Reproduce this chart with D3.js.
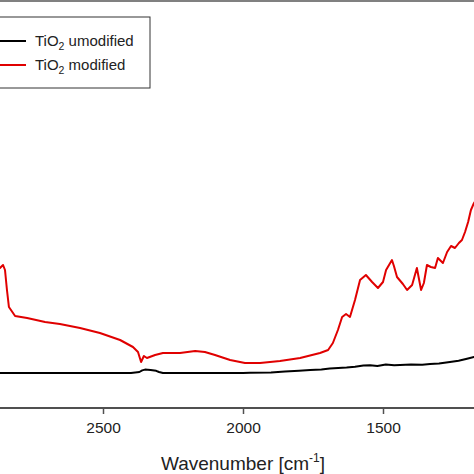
<!DOCTYPE html>
<html>
<head>
<meta charset="utf-8">
<script src="https://cdnjs.cloudflare.com/ajax/libs/d3/7.8.5/d3.min.js"></script>
<style>
  body { margin: 0; background: #fff; }
  svg { display: block; }
  text { font-family: "Liberation Sans", Arial, sans-serif; }
</style>
</head>
<body>
<svg width="474" height="474"></svg>
<script>
// FTIR spectra, TiO2 unmodified vs modified

var xTicks = [2500, 2000, 1500];

var seriesNames = ['umodified', 'modified'];
var seriesColors = ['#000000', '#e00000'];

// wavenumber [cm-1], absorbance (arbitrary units)
var blackWave = [2880, 2860, 2800, 2700, 2600, 2500, 2400, 2370, 2360, 2350, 2330, 2310, 2300, 2286, 2200, 2100, 2000, 1975, 1900, 1850, 1800, 1760, 1720, 1690, 1660, 1630, 1600, 1570, 1546, 1520, 1490, 1460, 1439, 1400, 1360, 1332, 1300, 1261, 1230, 1200, 1175, 1120];
var blackAbs  = [8.75, 8.75, 8.75, 8.75, 8.75, 8.75, 8.75, 9, 9.4, 9.6, 9.5, 9.3, 9, 8.75, 8.75, 8.75, 8.75, 8.8, 8.9, 9.1, 9.3, 9.5, 9.6, 9.9, 10, 10.1, 10.3, 10.6, 10.7, 10.5, 10.9, 10.7, 10.75, 10.9, 10.8, 11, 11.1, 11.5, 11.8, 12.3, 12.75, 13.3];

var redWave = [2880, 2868, 2857, 2850, 2843, 2836, 2814, 2771, 2707, 2654, 2582, 2511, 2439, 2393, 2375, 2364, 2354, 2343, 2314, 2286, 2225, 2171, 2136, 2100, 2046, 1993, 1939, 1868, 1796, 1725, 1696, 1679, 1661, 1646, 1632, 1618, 1600, 1582, 1561, 1539, 1518, 1500, 1489, 1468, 1461, 1450, 1429, 1414, 1396, 1379, 1364, 1354, 1343, 1329, 1314, 1304, 1286, 1271, 1257, 1243, 1229, 1218, 1207, 1196, 1186, 1175, 1154];
var redAbs  = [35, 35, 35.75, 34.5, 29.5, 25.25, 23, 22.5, 21.5, 21, 20, 18.75, 17, 15.25, 14, 11.5, 13, 12.5, 13.25, 13.75, 13.75, 14.25, 14, 13.25, 12, 11.25, 11.25, 11.75, 12.5, 13.75, 14.5, 16.25, 19.5, 22.75, 23.5, 22.75, 27, 32, 33.25, 31.5, 30, 31.5, 34.5, 37, 35.5, 32.75, 31, 29.5, 30.75, 35, 29.5, 31.25, 35.75, 35.25, 35, 37.5, 36.25, 39, 40.5, 40, 41.25, 42, 44, 46.5, 49.5, 51.25, 53.25];

var svg = d3.select('svg');
var width = +svg.attr('width');
var height = +svg.attr('height');

var axisY = 408;

// plot area runs wider than the crop on both sides
var x = d3.scaleLinear().domain([3000, 1000]).range([-37, 523]);
var y = d3.scaleLinear().domain([0, 100]).range([axisY, 8]);

// top frame
svg.append('line')
  .attr('x1', 0).attr('x2', width)
  .attr('y1', 1).attr('y2', 1)
  .attr('stroke', '#808080')
  .attr('stroke-width', 2);

var line = d3.line()
  .x(function(d){ return x(d[0]); })
  .y(function(d){ return y(d[1]); });

var series = [
  d3.zip(blackWave, blackAbs),
  d3.zip(redWave, redAbs)
];

svg.selectAll('path.spec')
  .data(series)
  .enter().append('path')
  .attr('class', 'spec')
  .attr('d', line)
  .attr('fill', 'none')
  .attr('stroke', function(d, i){ return seriesColors[i]; })
  .attr('stroke-width', 2)
  .attr('stroke-linejoin', 'round');

// bottom axis
var xAxis = d3.axisBottom(x).tickValues(xTicks).tickFormat(d3.format('d')).tickSize(6).tickPadding(8);
var gx = svg.append('g')
  .attr('transform', 'translate(0,' + axisY + ')')
  .call(xAxis)
  .attr('font-family', null);
gx.select('.domain').remove();
gx.append('line')
  .attr('x1', 0).attr('x2', width)
  .attr('stroke', '#505050')
  .attr('stroke-width', 2);
gx.selectAll('.tick line').attr('stroke', '#505050').attr('stroke-width', 1.5);
gx.selectAll('.tick text')
  .attr('fill', '#222')
  .style('font-size', '15.5px');

var title = svg.append('text')
  .attr('x', 243)
  .attr('y', 470)
  .attr('text-anchor', 'middle')
  .attr('fill', '#222')
  .style('font-size', '19px');
title.append('tspan').text('Wavenumber [cm');
title.append('tspan').attr('dy', -8).style('font-size', '12px').text('-1');
title.append('tspan').attr('dy', 8).text(']');

// legend
var legend = svg.append('g');
legend.append('rect')
  .attr('x', -10).attr('y', 17)
  .attr('width', 160).attr('height', 71)
  .attr('fill', '#fff')
  .attr('stroke', '#333')
  .attr('stroke-width', 1);

var items = legend.selectAll('g.item')
  .data(seriesNames)
  .enter().append('g')
  .attr('class', 'item')
  .attr('transform', function(d, i){ return 'translate(0,' + (41 + i * 24) + ')'; });

items.append('line')
  .attr('x1', 0).attr('x2', 26)
  .attr('stroke', function(d, i){ return seriesColors[i]; })
  .attr('stroke-width', 2);

var lt = items.append('text')
  .attr('x', 35)
  .attr('y', 5)
  .attr('fill', '#222')
  .style('font-size', '15px');
lt.append('tspan').text('TiO');
lt.append('tspan').attr('dy', 4).style('font-size', '10.5px').text('2');
lt.append('tspan').attr('dy', -4).text(function(d){ return ' ' + d; });
</script>
</body>
</html>
